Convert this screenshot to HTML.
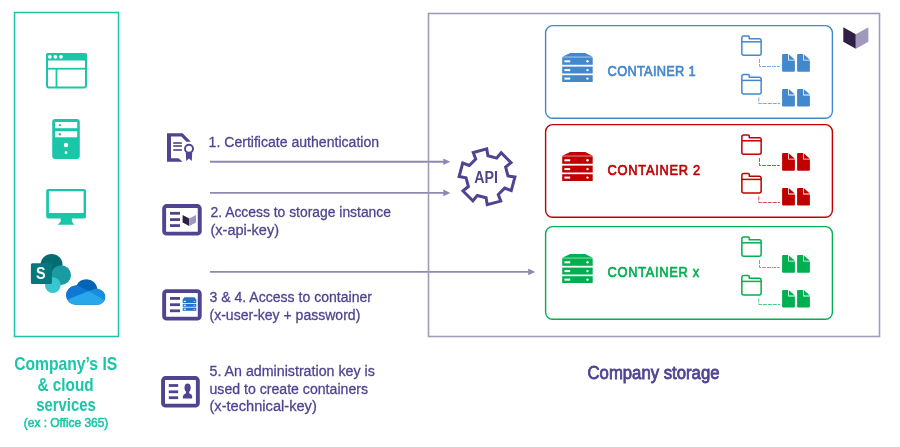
<!DOCTYPE html>
<html><head><meta charset="utf-8"><style>
html,body{margin:0;padding:0;background:#fff;}
svg{display:block;font-family:"Liberation Sans",sans-serif;will-change:transform;}
</style></head><body>
<svg width="900" height="447" viewBox="0 0 900 447">
<rect x="14.5" y="12.5" width="104" height="324" fill="none" stroke="#1bc6a8" stroke-width="1.5"/>
<rect x="47" y="54" width="39" height="33.5" rx="2" fill="none" stroke="#1bc6a8" stroke-width="2"/>
<rect x="46" y="53" width="41" height="7.6" rx="2" fill="#1bc6a8"/>
<circle cx="49.8" cy="56.8" r="1.85" fill="#fff"/>
<circle cx="55.4" cy="56.8" r="1.85" fill="#fff"/>
<circle cx="61" cy="56.8" r="1.85" fill="#fff"/>
<rect x="46" y="67.8" width="41" height="1.8" fill="#1bc6a8"/>
<rect x="55.6" y="68" width="1.8" height="19" fill="#1bc6a8"/>
<rect x="52.2" y="119" width="27.6" height="40" rx="3" fill="#1bc6a8"/>
<rect x="55.2" y="122" width="22" height="6.2" fill="#fff"/>
<rect x="55.2" y="131.2" width="22" height="6.1" fill="#fff"/>
<circle cx="59.8" cy="125.1" r="1.2" fill="#1bc6a8"/>
<circle cx="59.8" cy="134.3" r="1.2" fill="#1bc6a8"/>
<circle cx="66" cy="145" r="2.2" fill="#fff"/>
<circle cx="66" cy="152.7" r="1.4" fill="#fff"/>
<path d="M48.2,189 H84 Q86,189 86,191 V216.6 Q86,218.6 84,218.6 H48.2 Q46.2,218.6 46.2,216.6 V191 Q46.2,189 48.2,189 Z M48.9,191.3 V213 H83.6 V191.3 Z" fill="#1bc6a8" fill-rule="evenodd"/>
<path d="M60.7,218 H71.9 V221.5 L74.2,224.8 H57.6 L60.7,221.5 Z" fill="#1bc6a8"/>
<circle cx="51.55" cy="264.85" r="10.95" fill="#036c70"/>
<circle cx="61.1" cy="275.1" r="9.9" fill="#1a9ba1"/>
<circle cx="52.85" cy="285.15" r="7.85" fill="#37c6d0"/>
<rect x="30.9" y="263.2" width="21" height="20.8" rx="1.5" fill="#03787c"/>
<text x="36.1" y="279.3" font-size="16.8" font-weight="bold" fill="#fff" textLength="9.6" lengthAdjust="spacingAndGlyphs">S</text>
<defs><clipPath id="cl"><circle cx="86.5" cy="290.4" r="11.1"/><circle cx="75.8" cy="295.2" r="9.6"/><circle cx="97.3" cy="296.9" r="7.9"/><rect x="75.8" y="293" width="21.5" height="11.8"/></clipPath></defs>
<g clip-path="url(#cl)"><rect x="60" y="275" width="50" height="35" fill="#0364b8"/><path d="M60,276.7 L88.6,291.1 L60,310 Z" fill="#0f78d4"/><path d="M88.6,291.1 L110,284.5 L110,310 Z" fill="#1490df"/><path d="M60,302.8 L88.6,291.1 L110,303.2 L110,310 L60,310 Z" fill="#28a8ea"/></g>
<text x="14.2" y="370" font-size="19" fill="#1bc6a8" font-weight="bold" textLength="103" lengthAdjust="spacingAndGlyphs">Company’s IS</text>
<text x="37.6" y="390.5" font-size="19" fill="#1bc6a8" font-weight="bold" textLength="56" lengthAdjust="spacingAndGlyphs">&amp; cloud</text>
<text x="36.2" y="411.2" font-size="19" fill="#1bc6a8" font-weight="bold" textLength="59.5" lengthAdjust="spacingAndGlyphs">services</text>
<text x="23.8" y="427" font-size="12.3" fill="#1bc6a8" font-weight="normal" textLength="84.5" lengthAdjust="spacingAndGlyphs" stroke="#1bc6a8" stroke-width="0.55">(ex : Office 365)</text>
<path d="M167,133.2 H182.6 L190.9,141.8 H186.4 L181.3,136.6 H171 V158.3 H178.5 L182.6,161.7 H167 Z" fill="#504390"/>
<rect x="173.2" y="142.2" width="8.7" height="1.6" fill="#504390"/><rect x="173.2" y="145.2" width="8.7" height="1.6" fill="#504390"/><rect x="173.2" y="149.2" width="8.7" height="1.6" fill="#504390"/>
<circle cx="189" cy="148.8" r="4.0" fill="none" stroke="#504390" stroke-width="1.9"/>
<path d="M185.8,152.6 H192.2 L191.8,161 L189,158.6 L186.2,161 Z" fill="#504390"/>
<rect x="164.14999999999998" y="206.04999999999998" width="35.6" height="27.6" rx="2.5" fill="#fff" stroke="#504390" stroke-width="3.9"/>
<rect x="170" y="211.9" width="10" height="2.8" fill="#504390"/><rect x="170" y="218.2" width="10" height="2.8" fill="#504390"/><rect x="170" y="224.2" width="10" height="2.8" fill="#504390"/>
<path d="M182.6,214.9 L189.2,218.4 V225.9 L182.6,222.4 Z" fill="#2f1e45"/>
<path d="M189.2,218.4 L196,214.9 V222.4 L189.2,225.9 Z" fill="#a199bb"/>
<rect x="164.14999999999998" y="291.15" width="35.6" height="27.5" rx="2.5" fill="#fff" stroke="#504390" stroke-width="3.9"/>
<rect x="170" y="297.0" width="10" height="2.8" fill="#504390"/><rect x="170" y="303.3" width="10" height="2.8" fill="#504390"/><rect x="170" y="309.40000000000003" width="10" height="2.8" fill="#504390"/>
<path d="M184.5,297.3 H194.5 L196.3,299.5 V303 H182.7 V299.5 Z" fill="#1f74c9"/>
<rect x="182.7" y="303.8" width="13.6" height="3" fill="#1f74c9"/>
<rect x="182.7" y="307.6" width="13.6" height="3.2" fill="#1f74c9"/>
<rect x="183.8" y="300.8" width="2.2" height="1" fill="#fff"/><circle cx="194.2" cy="301.3" r="0.55" fill="#fff"/>
<rect x="183.8" y="304.8" width="2.2" height="1" fill="#fff"/><circle cx="194.2" cy="305.3" r="0.55" fill="#fff"/>
<rect x="183.8" y="308.7" width="2.2" height="1" fill="#fff"/><circle cx="194.2" cy="309.2" r="0.55" fill="#fff"/>
<rect x="163.04999999999998" y="378.05" width="34.800000000000004" height="27.6" rx="2.5" fill="#fff" stroke="#504390" stroke-width="3.9"/>
<rect x="168.8" y="384.1" width="9.4" height="2.8" fill="#504390"/><rect x="168.8" y="390.40000000000003" width="9.4" height="2.8" fill="#504390"/><rect x="168.8" y="396.3" width="9.4" height="2.8" fill="#504390"/>
<ellipse cx="187.6" cy="387.8" rx="3.1" ry="4.3" fill="#504390"/>
<path d="M186,390.5 H189.2 V393.2 Q192,394 192.2,396.2 V398.6 H182.9 V396.2 Q183.2,394 186,393.2 Z" fill="#504390"/>
<text x="208.6" y="146.7" font-size="15.5" fill="#504390" font-weight="normal" textLength="170.5" lengthAdjust="spacingAndGlyphs" stroke="#504390" stroke-width="0.3">1. Certificate authentication</text>
<text x="210.5" y="217" font-size="15.5" fill="#504390" font-weight="normal" textLength="180.5" lengthAdjust="spacingAndGlyphs" stroke="#504390" stroke-width="0.3">2. Access to storage instance</text>
<text x="210.5" y="234.8" font-size="15.5" fill="#504390" font-weight="normal" textLength="68.5" lengthAdjust="spacingAndGlyphs" stroke="#504390" stroke-width="0.3">(x-api-key)</text>
<text x="209.5" y="302.2" font-size="15.5" fill="#504390" font-weight="normal" textLength="162.5" lengthAdjust="spacingAndGlyphs" stroke="#504390" stroke-width="0.3">3 &amp; 4. Access to container</text>
<text x="209.5" y="320" font-size="15.5" fill="#504390" font-weight="normal" textLength="150.8" lengthAdjust="spacingAndGlyphs" stroke="#504390" stroke-width="0.3">(x-user-key + password)</text>
<text x="209.5" y="375.8" font-size="15.5" fill="#504390" font-weight="normal" textLength="165.3" lengthAdjust="spacingAndGlyphs" stroke="#504390" stroke-width="0.3">5. An administration key is</text>
<text x="209.5" y="393.6" font-size="15.5" fill="#504390" font-weight="normal" textLength="158.5" lengthAdjust="spacingAndGlyphs" stroke="#504390" stroke-width="0.3">used to create containers</text>
<text x="209.5" y="411.3" font-size="15.5" fill="#504390" font-weight="normal" textLength="107.3" lengthAdjust="spacingAndGlyphs" stroke="#504390" stroke-width="0.3">(x-technical-key)</text>
<line x1="210" y1="161.8" x2="444.3" y2="161.8" stroke="#8e88b0" stroke-width="1.9"/><path d="M443.3,158.5 L450.3,161.8 L443.3,165.10000000000002 Z" fill="#8e88b0"/>
<line x1="210" y1="192.9" x2="444.3" y2="192.9" stroke="#8e88b0" stroke-width="1.9"/><path d="M443.3,189.6 L450.3,192.9 L443.3,196.20000000000002 Z" fill="#8e88b0"/>
<line x1="210" y1="271.9" x2="529.2" y2="271.9" stroke="#8e88b0" stroke-width="1.9"/><path d="M528.2,268.59999999999997 L535.2,271.9 L528.2,275.2 Z" fill="#8e88b0"/>
<rect x="428.5" y="13.5" width="451" height="323" fill="none" stroke="#a09bb9" stroke-width="1.6"/>
<path d="M468.37,186.50 L462.96,190.96 L472.84,200.84 L477.30,195.43 L486.08,197.78 L487.24,204.70 L500.74,201.08 L498.28,194.51 L504.71,188.08 L511.28,190.54 L514.90,177.04 L507.98,175.88 L505.63,167.10 L511.04,162.64 L501.16,152.76 L496.70,158.17 L487.92,155.82 L486.76,148.90 L473.26,152.52 L475.72,159.09 L469.29,165.52 L462.72,163.06 L459.10,176.56 L466.02,177.72 Z" fill="#fff" stroke="#504390" stroke-width="3" stroke-linejoin="miter"/>
<text x="474.3" y="182.8" font-size="16" fill="#504390" font-weight="bold" textLength="23.6" lengthAdjust="spacingAndGlyphs">API</text>
<path d="M843.3,27.2 L855.8,34.2 V48.8 L843.3,41.8 Z" fill="#2f1e45"/>
<path d="M855.8,34.2 L868.4,27.2 V41.8 L855.8,48.8 Z" fill="#a199bb"/>
<rect x="545.6" y="25.6" width="286.8" height="92.6" rx="7" ry="7" fill="none" stroke="#4388cd" stroke-width="1.4"/>
<path d="M570.2,53 L585.2,53 L592.7,56.7 L562.2,56.7 Z" fill="#4388cd"/>
<rect x="562.2" y="57.3" width="30.5" height="7.5" fill="#4388cd"/>
<rect x="562.2" y="66.6" width="30.5" height="6.9" fill="#4388cd"/>
<rect x="562.2" y="75.2" width="30.5" height="6.8" fill="#4388cd"/>
<rect x="564.4000000000001" y="60.3" width="5.8" height="2" fill="#fff"/>
<circle cx="587.5" cy="61.3" r="1.2" fill="#fff"/>
<rect x="564.4000000000001" y="69.1" width="5.8" height="2" fill="#fff"/>
<circle cx="587.5" cy="70.1" r="1.2" fill="#fff"/>
<rect x="564.4000000000001" y="77.6" width="5.8" height="2" fill="#fff"/>
<circle cx="587.5" cy="78.6" r="1.2" fill="#fff"/>
<text transform="translate(607.6,75.5) scale(0.84,1)" fill="#4388cd" stroke="#4388cd" stroke-width="0.7" font-size="15.3" textLength="104.76" lengthAdjust="spacing">CONTAINER 1</text>
<path d="M741.85,37.95 Q741.85,35.95 743.85,35.95 L748.25,35.95 Q749.25,35.95 749.25,36.95 L749.25,38.650000000000006 L759.15,38.650000000000006 Q761.15,38.650000000000006 761.15,40.650000000000006 L761.15,53.35 Q761.15,55.35 759.15,55.35 L743.85,55.35 Q741.85,55.35 741.85,53.35 Z" fill="none" stroke="#4388cd" stroke-width="1.5" stroke-linejoin="round"/><line x1="741.85" y1="41.800000000000004" x2="761.15" y2="41.800000000000004" stroke="#4388cd" stroke-width="1.5"/>
<path d="M759.5,59 L759.5,66.5 L779.8,66.5" fill="none" stroke="#4388cd" stroke-width="1" stroke-dasharray="4,1" opacity="0.7"/>
<path d="M783.1,54.1 L788.2,54.1 L788.2,60.50000000000001 L794.9,60.50000000000001 L794.9,70.7 Q794.9,71.7 793.9,71.7 L783.1,71.7 Q782.1,71.7 782.1,70.7 L782.1,55.1 Q782.1,54.1 783.1,54.1 Z" fill="#4388cd"/>
<path d="M789.0000000000001,54.4 L794.9,59.7 L789.0000000000001,59.7 Z" fill="#4388cd"/>
<path d="M798.1,54.1 L803.2,54.1 L803.2,60.50000000000001 L809.9,60.50000000000001 L809.9,70.7 Q809.9,71.7 808.9,71.7 L798.1,71.7 Q797.1,71.7 797.1,70.7 L797.1,55.1 Q797.1,54.1 798.1,54.1 Z" fill="#4388cd"/>
<path d="M804.0000000000001,54.4 L809.9,59.7 L804.0000000000001,59.7 Z" fill="#4388cd"/>
<path d="M741.85,76.55 Q741.85,74.55 743.85,74.55 L748.25,74.55 Q749.25,74.55 749.25,75.55 L749.25,77.25 L759.15,77.25 Q761.15,77.25 761.15,79.25 L761.15,91.94999999999999 Q761.15,93.94999999999999 759.15,93.94999999999999 L743.85,93.94999999999999 Q741.85,93.94999999999999 741.85,91.94999999999999 Z" fill="none" stroke="#4388cd" stroke-width="1.5" stroke-linejoin="round"/><line x1="741.85" y1="80.39999999999999" x2="761.15" y2="80.39999999999999" stroke="#4388cd" stroke-width="1.5"/>
<path d="M758.8,97.5 L758.8,103.5 L780,103.5" fill="none" stroke="#4388cd" stroke-width="1" stroke-dasharray="4,1" opacity="0.7"/>
<path d="M783.1,89 L788.2,89 L788.2,95.4 L794.9,95.4 L794.9,105.6 Q794.9,106.6 793.9,106.6 L783.1,106.6 Q782.1,106.6 782.1,105.6 L782.1,90 Q782.1,89 783.1,89 Z" fill="#4388cd"/>
<path d="M789.0000000000001,89.3 L794.9,94.60000000000001 L789.0000000000001,94.60000000000001 Z" fill="#4388cd"/>
<path d="M798.1,89 L803.2,89 L803.2,95.4 L809.9,95.4 L809.9,105.6 Q809.9,106.6 808.9,106.6 L798.1,106.6 Q797.1,106.6 797.1,105.6 L797.1,90 Q797.1,89 798.1,89 Z" fill="#4388cd"/>
<path d="M804.0000000000001,89.3 L809.9,94.60000000000001 L804.0000000000001,94.60000000000001 Z" fill="#4388cd"/>
<rect x="545.6" y="124.6" width="286.8" height="92.6" rx="7" ry="7" fill="none" stroke="#c00000" stroke-width="1.4"/>
<path d="M570.2,152 L585.2,152 L592.7,155.7 L562.2,155.7 Z" fill="#c00000"/>
<rect x="562.2" y="156.3" width="30.5" height="7.5" fill="#c00000"/>
<rect x="562.2" y="165.6" width="30.5" height="6.9" fill="#c00000"/>
<rect x="562.2" y="174.2" width="30.5" height="6.8" fill="#c00000"/>
<rect x="564.4000000000001" y="159.3" width="5.8" height="2" fill="#fff"/>
<circle cx="587.5" cy="160.3" r="1.2" fill="#fff"/>
<rect x="564.4000000000001" y="168.1" width="5.8" height="2" fill="#fff"/>
<circle cx="587.5" cy="169.1" r="1.2" fill="#fff"/>
<rect x="564.4000000000001" y="176.6" width="5.8" height="2" fill="#fff"/>
<circle cx="587.5" cy="177.6" r="1.2" fill="#fff"/>
<text transform="translate(607.6,174.5) scale(0.84,1)" fill="#c00000" stroke="#c00000" stroke-width="0.7" font-size="15.3" textLength="110.24" lengthAdjust="spacing">CONTAINER 2</text>
<path d="M741.85,136.95 Q741.85,134.95 743.85,134.95 L748.25,134.95 Q749.25,134.95 749.25,135.95 L749.25,137.64999999999998 L759.15,137.64999999999998 Q761.15,137.64999999999998 761.15,139.64999999999998 L761.15,152.35 Q761.15,154.35 759.15,154.35 L743.85,154.35 Q741.85,154.35 741.85,152.35 Z" fill="none" stroke="#c00000" stroke-width="1.5" stroke-linejoin="round"/><line x1="741.85" y1="140.79999999999998" x2="761.15" y2="140.79999999999998" stroke="#c00000" stroke-width="1.5"/>
<path d="M759.5,158 L759.5,165.5 L779.8,165.5" fill="none" stroke="#c00000" stroke-width="1" stroke-dasharray="4,1" opacity="0.7"/>
<path d="M783.1,153.1 L788.2,153.1 L788.2,159.49999999999997 L794.9,159.49999999999997 L794.9,169.7 Q794.9,170.7 793.9,170.7 L783.1,170.7 Q782.1,170.7 782.1,169.7 L782.1,154.1 Q782.1,153.1 783.1,153.1 Z" fill="#c00000"/>
<path d="M789.0000000000001,153.4 L794.9,158.7 L789.0000000000001,158.7 Z" fill="#c00000"/>
<path d="M798.1,153.1 L803.2,153.1 L803.2,159.49999999999997 L809.9,159.49999999999997 L809.9,169.7 Q809.9,170.7 808.9,170.7 L798.1,170.7 Q797.1,170.7 797.1,169.7 L797.1,154.1 Q797.1,153.1 798.1,153.1 Z" fill="#c00000"/>
<path d="M804.0000000000001,153.4 L809.9,158.7 L804.0000000000001,158.7 Z" fill="#c00000"/>
<path d="M741.85,175.55 Q741.85,173.55 743.85,173.55 L748.25,173.55 Q749.25,173.55 749.25,174.55 L749.25,176.25 L759.15,176.25 Q761.15,176.25 761.15,178.25 L761.15,190.95000000000002 Q761.15,192.95000000000002 759.15,192.95000000000002 L743.85,192.95000000000002 Q741.85,192.95000000000002 741.85,190.95000000000002 Z" fill="none" stroke="#c00000" stroke-width="1.5" stroke-linejoin="round"/><line x1="741.85" y1="179.4" x2="761.15" y2="179.4" stroke="#c00000" stroke-width="1.5"/>
<path d="M758.8,196.5 L758.8,202.5 L780,202.5" fill="none" stroke="#c00000" stroke-width="1" stroke-dasharray="4,1" opacity="0.7"/>
<path d="M783.1,188 L788.2,188 L788.2,194.39999999999998 L794.9,194.39999999999998 L794.9,204.6 Q794.9,205.6 793.9,205.6 L783.1,205.6 Q782.1,205.6 782.1,204.6 L782.1,189 Q782.1,188 783.1,188 Z" fill="#c00000"/>
<path d="M789.0000000000001,188.3 L794.9,193.6 L789.0000000000001,193.6 Z" fill="#c00000"/>
<path d="M798.1,188 L803.2,188 L803.2,194.39999999999998 L809.9,194.39999999999998 L809.9,204.6 Q809.9,205.6 808.9,205.6 L798.1,205.6 Q797.1,205.6 797.1,204.6 L797.1,189 Q797.1,188 798.1,188 Z" fill="#c00000"/>
<path d="M804.0000000000001,188.3 L809.9,193.6 L804.0000000000001,193.6 Z" fill="#c00000"/>
<rect x="545.6" y="226.6" width="286.8" height="92.6" rx="7" ry="7" fill="none" stroke="#00b050" stroke-width="1.4"/>
<path d="M570.2,254 L585.2,254 L592.7,257.7 L562.2,257.7 Z" fill="#00b050"/>
<rect x="562.2" y="258.3" width="30.5" height="7.5" fill="#00b050"/>
<rect x="562.2" y="267.6" width="30.5" height="6.9" fill="#00b050"/>
<rect x="562.2" y="276.2" width="30.5" height="6.8" fill="#00b050"/>
<rect x="564.4000000000001" y="261.3" width="5.8" height="2" fill="#fff"/>
<circle cx="587.5" cy="262.3" r="1.2" fill="#fff"/>
<rect x="564.4000000000001" y="270.1" width="5.8" height="2" fill="#fff"/>
<circle cx="587.5" cy="271.1" r="1.2" fill="#fff"/>
<rect x="564.4000000000001" y="278.6" width="5.8" height="2" fill="#fff"/>
<circle cx="587.5" cy="279.6" r="1.2" fill="#fff"/>
<text transform="translate(607.6,276.5) scale(0.84,1)" fill="#00b050" stroke="#00b050" stroke-width="0.7" font-size="15.3" textLength="109.05" lengthAdjust="spacing">CONTAINER x</text>
<path d="M741.85,238.95 Q741.85,236.95 743.85,236.95 L748.25,236.95 Q749.25,236.95 749.25,237.95 L749.25,239.64999999999998 L759.15,239.64999999999998 Q761.15,239.64999999999998 761.15,241.64999999999998 L761.15,254.34999999999997 Q761.15,256.34999999999997 759.15,256.34999999999997 L743.85,256.34999999999997 Q741.85,256.34999999999997 741.85,254.34999999999997 Z" fill="none" stroke="#00b050" stroke-width="1.5" stroke-linejoin="round"/><line x1="741.85" y1="242.79999999999998" x2="761.15" y2="242.79999999999998" stroke="#00b050" stroke-width="1.5"/>
<path d="M759.5,260 L759.5,267.5 L779.8,267.5" fill="none" stroke="#00b050" stroke-width="1" stroke-dasharray="4,1" opacity="0.7"/>
<path d="M783.1,255.1 L788.2,255.1 L788.2,261.5 L794.9,261.5 L794.9,271.7 Q794.9,272.7 793.9,272.7 L783.1,272.7 Q782.1,272.7 782.1,271.7 L782.1,256.1 Q782.1,255.1 783.1,255.1 Z" fill="#00b050"/>
<path d="M789.0000000000001,255.4 L794.9,260.7 L789.0000000000001,260.7 Z" fill="#00b050"/>
<path d="M798.1,255.1 L803.2,255.1 L803.2,261.5 L809.9,261.5 L809.9,271.7 Q809.9,272.7 808.9,272.7 L798.1,272.7 Q797.1,272.7 797.1,271.7 L797.1,256.1 Q797.1,255.1 798.1,255.1 Z" fill="#00b050"/>
<path d="M804.0000000000001,255.4 L809.9,260.7 L804.0000000000001,260.7 Z" fill="#00b050"/>
<path d="M741.85,277.55 Q741.85,275.55 743.85,275.55 L748.25,275.55 Q749.25,275.55 749.25,276.55 L749.25,278.25 L759.15,278.25 Q761.15,278.25 761.15,280.25 L761.15,292.95 Q761.15,294.95 759.15,294.95 L743.85,294.95 Q741.85,294.95 741.85,292.95 Z" fill="none" stroke="#00b050" stroke-width="1.5" stroke-linejoin="round"/><line x1="741.85" y1="281.40000000000003" x2="761.15" y2="281.40000000000003" stroke="#00b050" stroke-width="1.5"/>
<path d="M758.8,298.5 L758.8,304.5 L780,304.5" fill="none" stroke="#00b050" stroke-width="1" stroke-dasharray="4,1" opacity="0.7"/>
<path d="M783.1,290 L788.2,290 L788.2,296.4 L794.9,296.4 L794.9,306.6 Q794.9,307.6 793.9,307.6 L783.1,307.6 Q782.1,307.6 782.1,306.6 L782.1,291 Q782.1,290 783.1,290 Z" fill="#00b050"/>
<path d="M789.0000000000001,290.3 L794.9,295.59999999999997 L789.0000000000001,295.59999999999997 Z" fill="#00b050"/>
<path d="M798.1,290 L803.2,290 L803.2,296.4 L809.9,296.4 L809.9,306.6 Q809.9,307.6 808.9,307.6 L798.1,307.6 Q797.1,307.6 797.1,306.6 L797.1,291 Q797.1,290 798.1,290 Z" fill="#00b050"/>
<path d="M804.0000000000001,290.3 L809.9,295.59999999999997 L804.0000000000001,295.59999999999997 Z" fill="#00b050"/>
<text x="587.5" y="378.8" font-size="18.2" fill="#504390" font-weight="normal" textLength="132" lengthAdjust="spacingAndGlyphs" stroke="#504390" stroke-width="0.8">Company storage</text>
</svg>
</body></html>
